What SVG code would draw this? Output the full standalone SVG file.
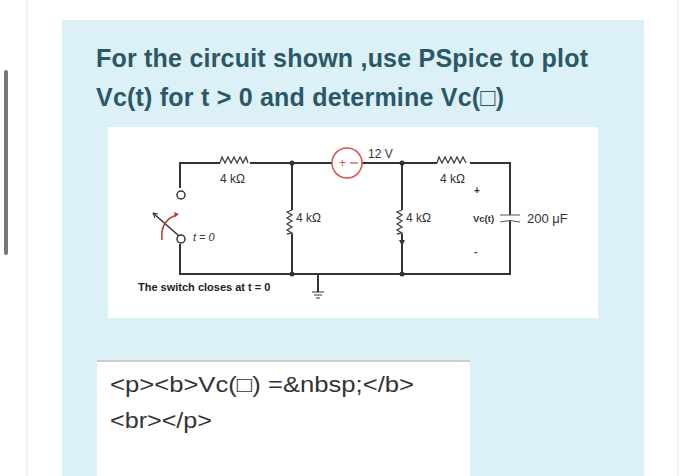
<svg xmlns="http://www.w3.org/2000/svg" width="700" height="476" viewBox="0 0 700 476">
<style>
.w{stroke:#333;stroke-width:2;fill:none}
.r{stroke:#444;stroke-width:1.3;fill:none}
.t{font-family:"Liberation Sans",Arial,sans-serif;fill:#333}
.dot{fill:#333}
</style>
<rect width="700" height="476" fill="#fff"/>
<line x1="27" y1="0" x2="27" y2="476" stroke="#e4e4e4"/>
<line x1="678" y1="0" x2="678" y2="476" stroke="#e4e4e4"/>
<rect x="4" y="70" width="4" height="185" rx="2" fill="#777"/>
<rect x="62" y="20" width="582" height="456" fill="#dcf0f7"/>
<text class="t" x="96" y="67" font-size="25" font-weight="bold" style="fill:#2b5866" textLength="492">For the circuit shown ,use PSpice to plot</text>
<text class="t" x="96" y="106" font-size="25" font-weight="bold" style="fill:#2b5866" textLength="408">Vc(t) for t &gt; 0 and determine Vc(□)</text>
<rect x="108" y="127" width="490" height="191" fill="#fff"/>
<g id="connectors">
<path class="w" d="M180 188 V163 H220 M250 163 H332 M362 163 H437 M470 163 H510 V215 M510 221 V274 H180 V244"/>
<path class="w" d="M292 163 V210 M292 234 V274 M402 163 V210 M402 234 V274 M318 274 V292"/>
<path d="M402 246 l-3 -6 h6 z" fill="#333"/>
</g>
<g id="R1"><path class="r" d="M220 163 l2 -6 l3 6 l3 -6 l3 6 l3 -6 l3 6 l3 -6 l3 6 l3 -6 l2 6"/><text class="t" x="220" y="183" font-size="12">4 kΩ</text></g>
<g id="R2"><path class="r" d="M292 210 l-5 2 l5 3 l-5 3 l5 3 l-5 3 l5 3 l-5 3 l5 3 l-5 1"/><text class="t" x="296" y="222" font-size="12">4 kΩ</text></g>
<g id="R3"><path class="r" d="M402 210 l-5 2 l5 3 l-5 3 l5 3 l-5 3 l5 3 l-5 3 l5 3 l-5 1"/><text class="t" x="406" y="222" font-size="12">4 kΩ</text></g>
<g id="R4"><path class="r" d="M437 163 l2 -6 l3 6 l3 -6 l3 6 l3 -6 l3 6 l3 -6 l3 6 l3 -6 l3 6"/><text class="t" x="440" y="183" font-size="12">4 kΩ</text></g>
<g id="V1"><circle cx="347" cy="163" r="15" fill="#fff" stroke="#d9534f" stroke-width="1.5"/><text x="339" y="167" font-size="12" fill="#d9534f" font-family="Liberation Sans,sans-serif">+</text><line x1="350" y1="163" x2="358" y2="163" stroke="#d9534f" stroke-width="1.3"/><text class="t" x="368" y="158" font-size="12">12 V</text></g>
<g id="C1"><line x1="500" y1="215" x2="520" y2="215" stroke="#555"/><path d="M500 222 q10 -3 20 0" stroke="#555" fill="none"/><text class="t" x="473" y="222" font-size="9.5" font-weight="bold">Vc(t)</text><text class="t" x="527" y="223" font-size="13">200 μF</text><text class="t" x="474" y="194" font-size="10" font-weight="bold">+</text><text class="t" x="474" y="255" font-size="10" font-weight="bold">-</text></g>
<g id="SW"><circle cx="181" cy="195" r="4" fill="#fff" stroke="#333" stroke-width="1.5"/><circle cx="181" cy="239" r="4" fill="#fff" stroke="#333" stroke-width="1.5"/><line x1="153" y1="213" x2="179" y2="236" stroke="#333" stroke-width="1.5"/><path d="M155 218 l-2 -5 l5 1" fill="none" stroke="#333"/><path d="M162 240 q-2 -20 15 -25" stroke="#c0392b" stroke-width="1.5" fill="none"/><path d="M179 214 l-5 -2 l1 5 z" fill="#c0392b"/><text class="t" x="193" y="241" font-size="11" font-style="italic">t = 0</text></g>
<g id="GND"><line x1="312" y1="292" x2="324" y2="292" stroke="#333"/><line x1="314" y1="295" x2="322" y2="295" stroke="#333"/><line x1="316" y1="298" x2="320" y2="298" stroke="#333"/></g>
<g id="nodes"><circle class="dot" cx="292" cy="163" r="2.5"/><circle class="dot" cx="402" cy="163" r="2.5"/><circle class="dot" cx="292" cy="274" r="2.5"/><circle class="dot" cx="402" cy="274" r="2.5"/></g>
<text class="t" x="138" y="291" font-size="11" font-weight="bold" style="fill:#222">The switch closes at t = 0</text>
<g id="answer"><rect x="97" y="360" width="373" height="120" fill="#fff"/><line x1="97" y1="361" x2="470" y2="361" stroke="#ccc" stroke-width="2"/>
<text class="t" x="110" y="392" font-size="22" textLength="304" lengthAdjust="spacingAndGlyphs">&lt;p&gt;&lt;b&gt;Vc(□) =&amp;nbsp;&lt;/b&gt;</text>
<text class="t" x="110" y="428" font-size="22" textLength="102" lengthAdjust="spacingAndGlyphs">&lt;br&gt;&lt;/p&gt;</text></g>
</svg>
